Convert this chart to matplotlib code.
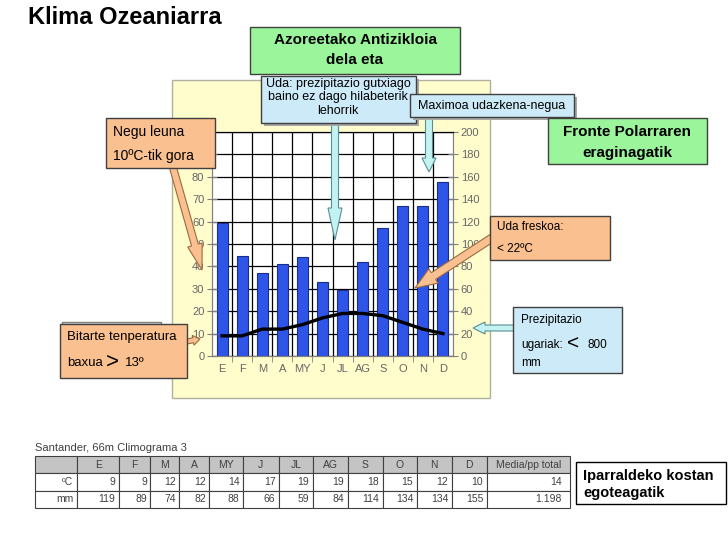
import numpy as np
import matplotlib.pyplot as plt
from matplotlib.patches import Rectangle, FancyArrow

plt.rcParams['font.family'] = ['Liberation Sans', 'DejaVu Sans']

# data (Santander, 66m)
months = ['E', 'F', 'M', 'A', 'MY', 'J', 'JL', 'AG', 'S', 'O', 'N', 'D']
temp_c = [9, 9, 12, 12, 14, 17, 19, 19, 18, 15, 12, 10]
precip_mm = [119, 89, 74, 82, 88, 66, 59, 84, 114, 134, 134, 155]
temp_mean = '14'
precip_total = '1.198'
temp_ticks = list(range(0, 101, 10))
temp_labels = [str(t) if t <= 80 else '' for t in temp_ticks]  # 90/100 sit under the box
precip_ticks = list(range(0, 201, 20))

W, H = 728, 546
fig = plt.figure(figsize=(7.28, 5.46), dpi=100)


def frac(x0, y0, x1, y1):
    # pixel box (top-left origin) -> figure fraction
    return [x0 / W, 1 - y1 / H, (x1 - x0) / W, (y1 - y0) / H]


# background layer
bg = fig.add_axes([0, 0, 1, 1], zorder=0)
bg.set_xlim(0, W)
bg.set_ylim(H, 0)
bg.axis('off')
bg.add_patch(Rectangle((172, 80), 318, 318, fc='#FFFDCC', ec='#B0B0A0', lw=1))
bg.text(28, 18, 'Klima Ozeaniarra', fontsize=17, fontweight='bold', va='center', ha='left')
bg.text(35, 448, 'Santander, 66m Climograma 3', fontsize=8, color='#404040', va='center', ha='left')

# climogram
ax = fig.add_axes(frac(212, 132, 453, 356), zorder=1)
x = np.arange(len(months))
ax.bar(x, precip_mm, width=0.55, color='#2E55E8', edgecolor='#1A2C8C', lw=0.8)
ax.set_xlim(-0.5, 11.5)
ax.set_ylim(0, 200)
ax.set_xticks(x)
ax.set_xticklabels(months)
ax.set_xticks(np.arange(0.5, 11, 1), minor=True)
ax.grid(True, which='minor', axis='x', color='black', lw=0.9)
ax.grid(True, which='major', axis='y', color='black', lw=0.9)
ax.set_axisbelow(True)

ax2 = ax.twinx()
ax.set_zorder(1)
ax2.set_zorder(2)
ax2.patch.set_visible(False)
ax2.plot(x, temp_c, color='black', lw=2.4)
ax2.set_ylim(0, 100)
ax2.set_yticks(temp_ticks)
ax2.set_yticklabels(temp_labels)
ax.set_yticks(precip_ticks)
ax.yaxis.tick_right()
ax2.yaxis.tick_left()

for a in (ax, ax2):
    a.tick_params(axis='y', which='major', direction='inout', length=7,
                  color='#808080', labelcolor='#666666', labelsize=8, pad=2)
    for s in a.spines.values():
        s.set_color('#808080')
    a.spines['top'].set_color('black')
ax.tick_params(axis='x', which='major', length=0, labelcolor='#666666', labelsize=8, pad=6)
ax.tick_params(axis='x', which='minor', length=4, color='#808080')

# table
tax = fig.add_axes(frac(35, 456, 570, 508), zorder=1)
tax.axis('off')
header = [''] + months + ['Media/pp total']
rows = [['ºC'] + [str(v) for v in temp_c] + [temp_mean],
        ['mm'] + [str(v) for v in precip_mm] + [precip_total]]
col_px = [42.3, 42, 30.7, 29.3, 30, 33.4, 36.3, 33.7, 35, 35, 34, 35, 35, 83.3]
tbl = tax.table(cellText=rows, colLabels=header, cellLoc='right', colLoc='center',
                colWidths=[w / sum(col_px) for w in col_px], bbox=[0, 0, 1, 1])
tbl.auto_set_font_size(False)
tbl.set_fontsize(7.5)
for (r, c), cell in tbl.get_celld().items():
    cell.set_edgecolor('#404040')
    cell.set_linewidth(0.8)
    cell.get_text().set_color('#404040')
    if r == 0:
        cell.set_facecolor('#C4C4C4')
    if c == 0:
        cell._loc = 'center'

# annotations layer
fg = fig.add_axes([0, 0, 1, 1], zorder=3)
fg.set_xlim(0, W)
fg.set_ylim(H, 0)
fg.axis('off')

orange = '#FAC08F'
blue = '#CDEAF8'
green = '#9BF59B'
cyan = '#C2F2F2'


def box(x0, y0, x1, y1, fc, ec='#404040', lw=1.0, shadow=False):
    if shadow:
        fg.add_patch(Rectangle((x0 + 3, y0 + 3), x1 - x0, y1 - y0, fc='#A8A8A8', ec='none'))
    fg.add_patch(Rectangle((x0, y0), x1 - x0, y1 - y0, fc=fc, ec=ec, lw=lw))


def arrow(x0, y0, x1, y1, w, hw, hl, fc, ec):
    fg.add_patch(FancyArrow(x0, y0, x1 - x0, y1 - y0, width=w, head_width=hw,
                            head_length=hl, length_includes_head=True, fc=fc, ec=ec, lw=0.8))


# arrows first so they start under the boxes
arrow(335, 118, 335, 240, 7, 14, 32, cyan, '#5A8E96')
arrow(429, 112, 429, 172, 7, 14, 14, cyan, '#5A8E96')
arrow(172, 164, 202, 270, 7, 15, 26, orange, '#9A6A40')
arrow(492, 238, 415, 288, 8, 17, 22, orange, '#9A6A40')
arrow(515, 328, 473, 328, 6, 12, 12, cyan, '#5A8E96')
arrow(184, 342, 200, 339, 5, 10, 7, orange, '#9A6A40')

box(250, 27, 460, 74, green)
fg.text(355, 40.5, 'Azoreetako Antizikloia', fontsize=11, fontweight='bold', ha='center', va='center')
fg.text(355, 60.5, 'dela eta', fontsize=11, fontweight='bold', ha='center', va='center')

box(261, 76, 416, 123, blue, shadow=True)
fg.text(338, 83.5, 'Uda: prezipitazio gutxiago', fontsize=9, ha='center', va='center')
fg.text(338, 97, 'baino ez dago hilabeterik', fontsize=9, ha='center', va='center')
fg.text(338, 111, 'lehorrik', fontsize=9, ha='center', va='center')

box(410, 94, 574, 116.5, blue, shadow=True)
fg.text(492, 106, 'Maximoa udazkena-negua', fontsize=9, ha='center', va='center')

box(548, 118, 707, 164, green)
fg.text(627, 132.5, 'Fronte Polarraren', fontsize=11, fontweight='bold', ha='center', va='center')
fg.text(627, 152.5, 'eraginagatik', fontsize=11, fontweight='bold', ha='center', va='center')

box(106, 118, 215, 168, orange)
fg.text(113, 132, 'Negu leuna', fontsize=10, ha='left', va='center')
fg.text(113, 156, '10ºC-tik gora', fontsize=10, ha='left', va='center')

box(490, 216, 610, 260, orange)
fg.text(497, 227.5, 'Uda freskoa:', fontsize=8.5, ha='left', va='center')
fg.text(497, 249, '< 22ºC', fontsize=8.5, ha='left', va='center')

box(513, 307, 622, 373, blue)
fg.text(521, 319.5, 'Prezipitazio', fontsize=8.5, ha='left', va='center')
fg.text(521, 345, 'ugariak:', fontsize=8.5, ha='left', va='center')
fg.text(567, 344, '<', fontsize=15, ha='left', va='center')
fg.text(587, 345, '800', fontsize=8.5, ha='left', va='center')
fg.text(521, 363.5, 'mm', fontsize=8.5, ha='left', va='center')

box(62, 322, 161, 340, '#D8D8D8', ec='#808080')
box(60, 324, 187, 378, orange)
fg.text(67, 337, 'Bitarte tenperatura', fontsize=9.5, ha='left', va='center')
fg.text(67, 363.5, 'baxua', fontsize=9.5, ha='left', va='center')
fg.text(106, 362, '>', fontsize=16, ha='left', va='center')
fg.text(125, 363.5, '13º', fontsize=9.5, ha='left', va='center')

box(576, 462, 726, 504, 'white', ec='black')
fg.text(583, 476, 'Iparraldeko kostan', fontsize=10.5, fontweight='bold', ha='left', va='center')
fg.text(583, 493, 'egoteagatik', fontsize=10.5, fontweight='bold', ha='left', va='center')

fig.savefig('out.png', dpi=100)
